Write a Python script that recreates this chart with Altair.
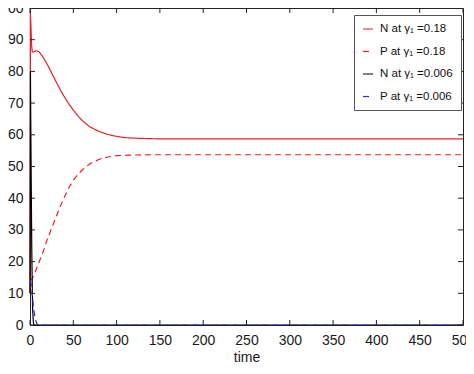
import altair as alt
import pandas as pd

# ---- data ----
series_names = ["N at γ₁ =0.18", "P at γ₁ =0.18", "N at γ₁ =0.006", "P at γ₁ =0.006"]
series_colors = ["#e3222b", "#e3222b", "#000000", "#2f2fc0"]
series_dashes = [[1, 0], [6, 4], [1, 0], [6, 4]]

t_N1 = [0, 0.4, 1.0, 1.8, 2.6, 4, 6, 8, 11, 15, 20, 25, 30, 35, 40, 45, 50, 55, 60, 65, 70, 80, 90, 100, 110, 125, 150, 200, 300, 400, 500]
v_N1 = [10, 98.5, 95, 88.5, 86.2, 86.1, 86.4, 86.5, 86.0, 84.5, 82.2, 79.5, 76.8, 74.2, 71.8, 69.7, 67.8, 66.1, 64.6, 63.4, 62.4, 61.0, 60.1, 59.5, 59.1, 58.9, 58.7, 58.7, 58.7, 58.7, 58.7]

t_P1 = [0, 2, 5, 10, 15, 20, 25, 30, 35, 40, 45, 50, 55, 60, 65, 70, 80, 90, 100, 115, 140, 200, 300, 400, 500]
v_P1 = [14, 14.3, 16, 19.5, 23, 27, 30.5, 34, 37.5, 40.5, 43.4, 45.6, 47.4, 48.8, 50.0, 51.0, 52.3, 53.0, 53.4, 53.6, 53.7, 53.7, 53.7, 53.7, 53.7]

t_N2 = [0, 0.5, 1.0, 2.0, 3.0, 4.0, 5.0, 100, 200, 300, 400, 500]
v_N2 = [10, 80, 60, 25, 5, 0.5, 0, 0, 0, 0, 0, 0]

t_P2 = [0, 1, 2.5, 4, 6, 8, 10, 100, 200, 300, 400, 500]
v_P2 = [14, 13.5, 10, 5.5, 2, 0.3, 0, 0, 0, 0, 0, 0]

x_ticks = [0, 50, 100, 150, 200, 250, 300, 350, 400, 450, 500]
y_ticks = [0, 10, 20, 30, 40, 50, 60, 70, 80, 90, 100]

rows = []
for name, ts, vs in zip(series_names, [t_N1, t_P1, t_N2, t_P2], [v_N1, v_P1, v_N2, v_P2]):
    for t, v in zip(ts, vs):
        rows.append({"series": name, "t": t, "value": v})
df = pd.DataFrame(rows)
df_xt = pd.DataFrame({"t": x_ticks})
df_yt = pd.DataFrame({"value": y_ticks})

W, H = 433, 317
FONT = "Liberation Sans"

X = alt.X("t:Q", scale=alt.Scale(domain=[0, 500], nice=False, zero=False),
          axis=alt.Axis(values=x_ticks, tickSize=0, domain=False, grid=False,
                        labelPadding=8, title="time", titleY=25, titleBaseline="top",
                        labelFlush=False))
Y = alt.Y("value:Q", scale=alt.Scale(domain=[0, 100], nice=False),
          axis=alt.Axis(values=y_ticks, tickSize=0, domain=False, grid=False,
                        labelPadding=7, title=None))

lines = alt.Chart(df).mark_line(strokeWidth=1.2).encode(
    x=X, y=Y,
    color=alt.Color("series:N", scale=alt.Scale(domain=series_names, range=series_colors),
                    legend=alt.Legend(title=None)),
    strokeDash=alt.StrokeDash("series:N", scale=alt.Scale(domain=series_names, range=series_dashes),
                              legend=alt.Legend(title=None)),
)

tick_color = "#222222"
xt_bottom = alt.Chart(df_xt).mark_rule(color=tick_color, strokeWidth=1).encode(x=X, y=alt.value(H), y2=alt.value(H - 5))
xt_top = alt.Chart(df_xt).mark_rule(color=tick_color, strokeWidth=1).encode(x=X, y=alt.value(0), y2=alt.value(5))
yt_left = alt.Chart(df_yt).mark_rule(color=tick_color, strokeWidth=1).encode(y=Y, x=alt.value(0), x2=alt.value(5))
yt_right = alt.Chart(df_yt).mark_rule(color=tick_color, strokeWidth=1).encode(y=Y, x=alt.value(W), x2=alt.value(W - 5))

chart = alt.layer(lines, xt_bottom, xt_top, yt_left, yt_right).properties(
    width=W, height=H,
    autosize=alt.AutoSizeParams(type="none"),
    padding={"left": 22, "top": 0, "right": 3, "bottom": 41},
).configure_view(
    stroke="#222222", strokeWidth=1
).configure_axis(
    labelFont=FONT, labelFontSize=14, labelColor="#1a1a1a",
    titleFont=FONT, titleFontSize=14, titleColor="#1a1a1a", titleFontWeight="normal",
).configure_legend(
    orient="none", legendX=324, legendY=7,
    fillColor="white", strokeColor="#555555", strokeWidth=1, padding=8, rowPadding=10.5,
    labelFont=FONT, labelFontSize=11.5, labelColor="#111111",
    symbolType="stroke", symbolSize=100, symbolStrokeWidth=1.2, labelOffset=6,
)

chart.save("out.html", embed_options={"renderer": "svg", "actions": False})
